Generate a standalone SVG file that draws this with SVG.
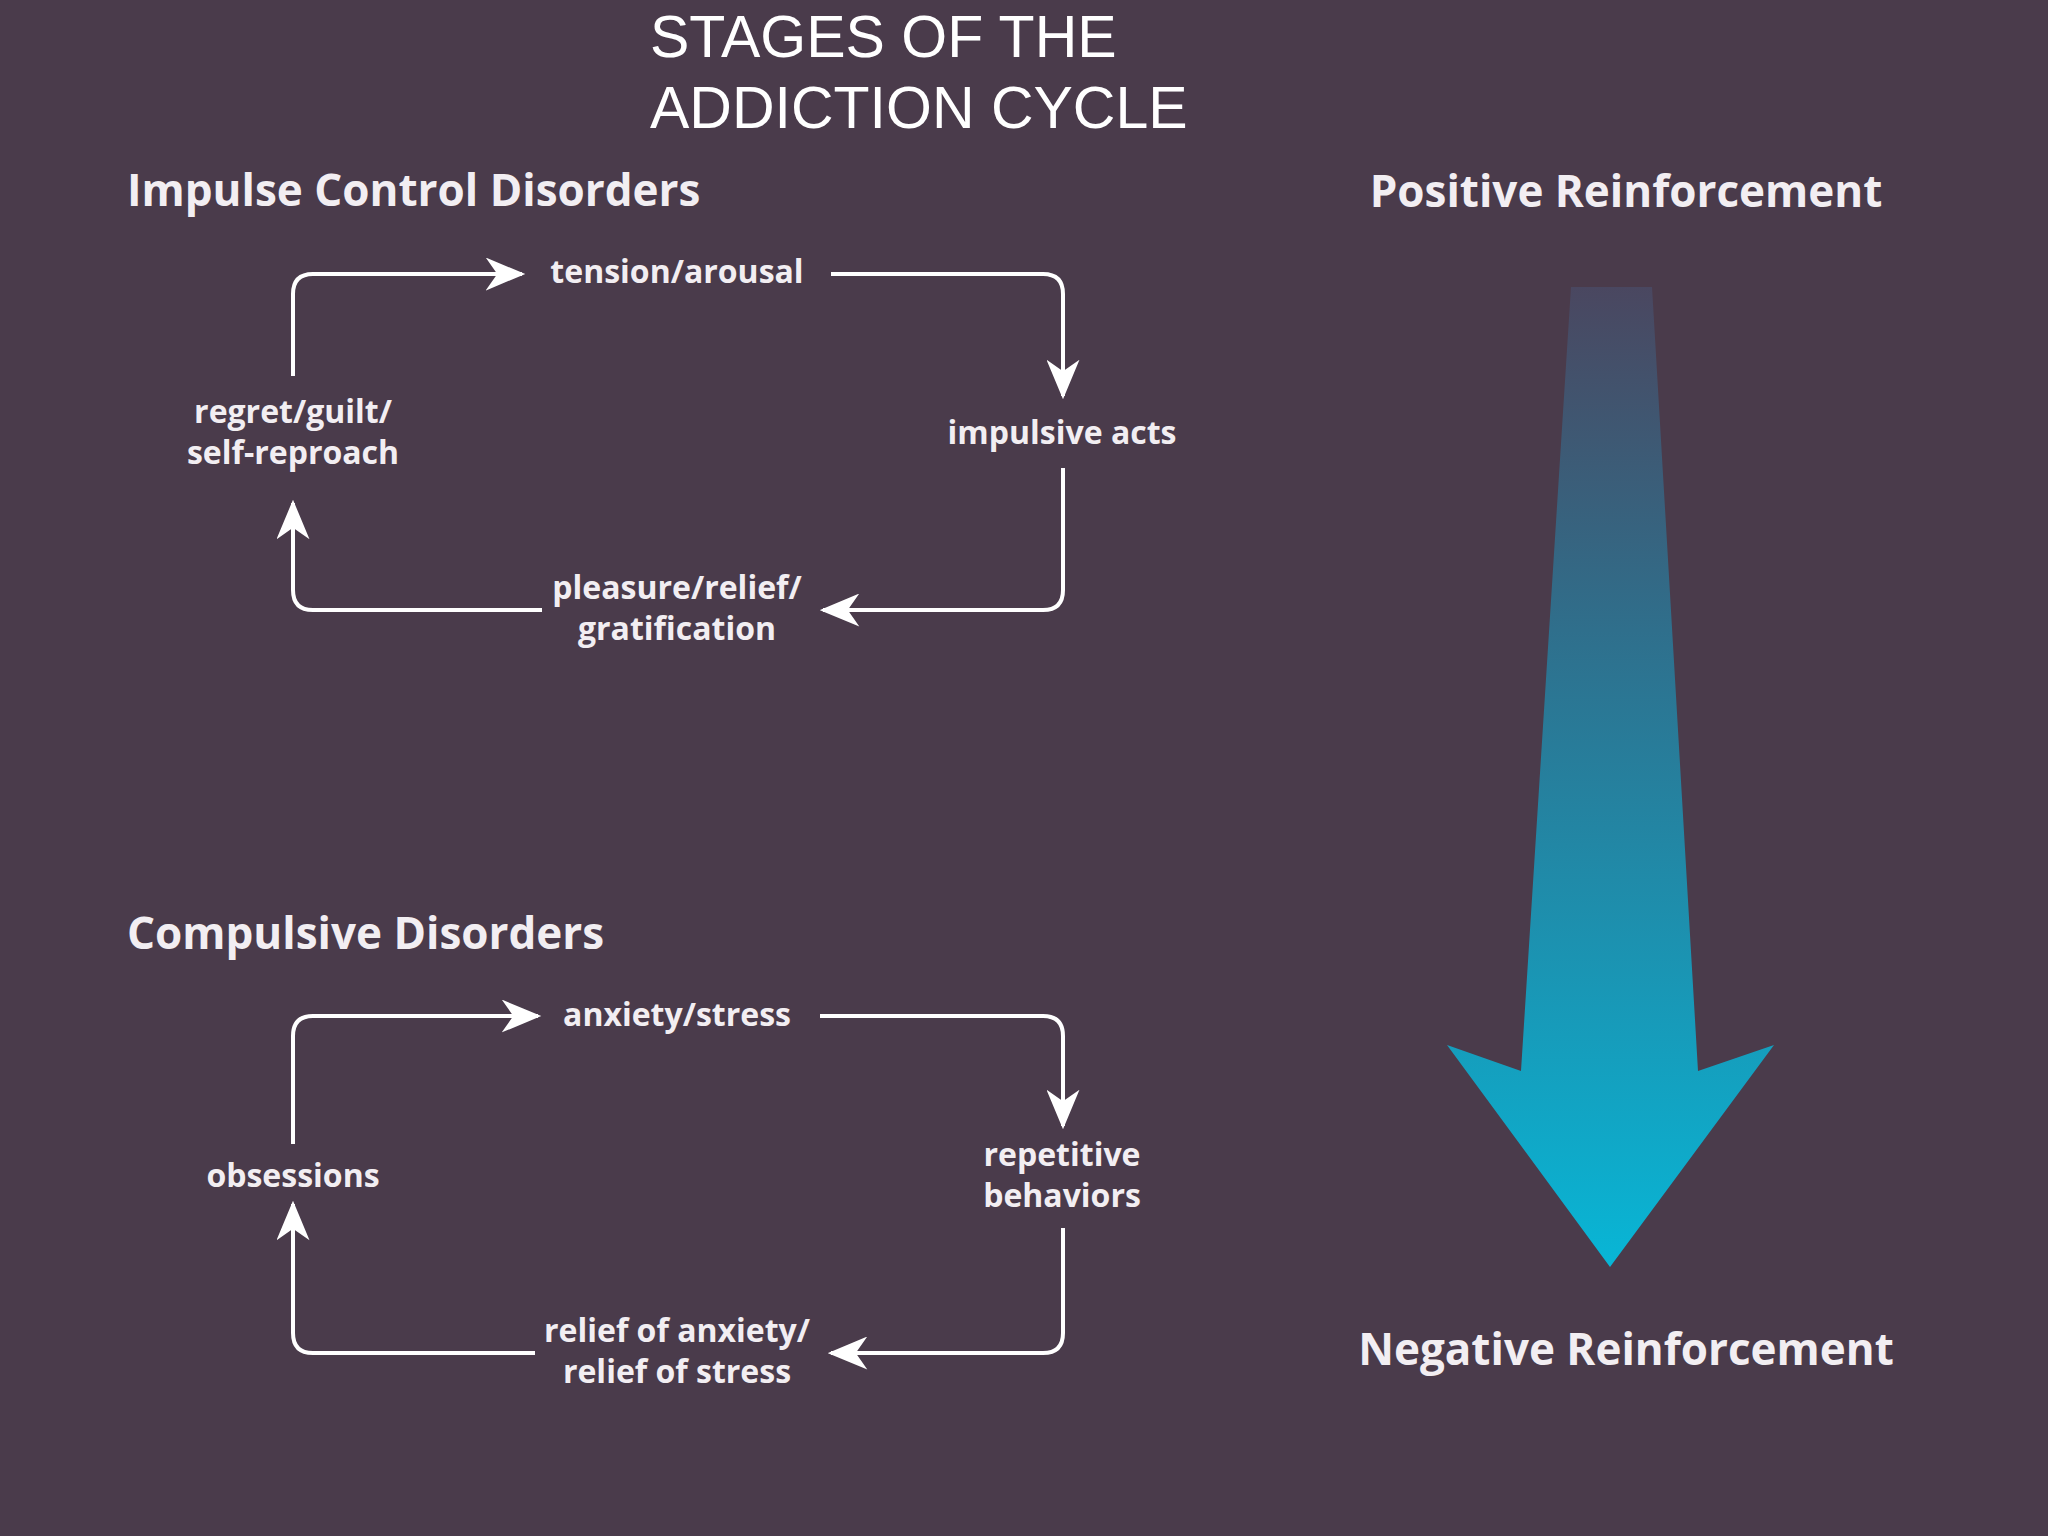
<svg xmlns="http://www.w3.org/2000/svg" width="2048" height="1536" viewBox="0 0 2048 1536">
<defs>
<marker id="ah" viewBox="0 0 12 10" refX="11" refY="5" markerWidth="40" markerHeight="33" markerUnits="userSpaceOnUse" orient="auto">
<path d="M0,0 L12,5 L0,10 L3.5,5 z" fill="#fff"/>
</marker>
<linearGradient id="g" x1="0" y1="287" x2="0" y2="1267" gradientUnits="userSpaceOnUse">
<stop offset="0" stop-color="#4a4760"/>
<stop offset="0.35" stop-color="#2f6f8c"/>
<stop offset="1" stop-color="#08b6d6"/>
</linearGradient>
<style>
.t{font-family:"Liberation Sans",Arial,sans-serif;fill:#fff}
.h{font-family:"Open Sans","Liberation Sans",sans-serif;font-weight:bold;fill:#f2eef2;font-size:44px}
.n{font-family:"Open Sans","Liberation Sans",sans-serif;font-weight:bold;fill:#f2eef2;font-size:32px;text-anchor:middle}
.c{fill:none;stroke:#fff;stroke-width:4}
</style>
</defs>
<rect width="2048" height="1536" fill="#4a3b4b"/>
<g id="title"><text class="t" x="650" y="57" font-size="59">STAGES OF THE</text><text class="t" x="650" y="128" font-size="59">ADDICTION CYCLE</text></g>
<g id="h1"><text class="h" x="127" y="206">Impulse Control Disorders</text></g>
<g id="h2"><text class="h" x="127" y="949">Compulsive Disorders</text></g>
<g id="pos"><text class="h" x="1626" y="207" text-anchor="middle">Positive Reinforcement</text></g>
<g id="neg"><text class="h" x="1626" y="1365" text-anchor="middle">Negative Reinforcement</text></g>
<g id="bigarrow"><path d="M1571,287 L1652,287 L1698,1071 L1774,1045 L1610,1267 L1447,1045 L1521,1071 Z" fill="url(#g)"/></g>
<g id="n1"><text class="n" x="677" y="283">tension/arousal</text></g>
<g id="n2"><text class="n" x="1062" y="444">impulsive acts</text></g>
<g id="n3"><text class="n" x="677" y="599">pleasure/relief/</text><text class="n" x="677" y="640">gratification</text></g>
<g id="n4"><text class="n" x="293" y="423">regret/guilt/</text><text class="n" x="293" y="464">self-reproach</text></g>
<g id="n5"><text class="n" x="677" y="1026">anxiety/stress</text></g>
<g id="n6"><text class="n" x="1062" y="1166">repetitive</text><text class="n" x="1062" y="1207">behaviors</text></g>
<g id="n7"><text class="n" x="677" y="1342">relief of anxiety/</text><text class="n" x="677" y="1383">relief of stress</text></g>
<g id="n8"><text class="n" x="293" y="1187">obsessions</text></g>
<g id="connectors">
<path class="c" d="M293,376 V294 Q293,274 313,274 H522" marker-end="url(#ah)"/>
<path class="c" d="M831,274 H1043 Q1063,274 1063,294 V396" marker-end="url(#ah)"/>
<path class="c" d="M1063,468 V590 Q1063,610 1043,610 H823" marker-end="url(#ah)"/>
<path class="c" d="M542,610 H313 Q293,610 293,590 V503" marker-end="url(#ah)"/>
<path class="c" d="M293,1144 V1036 Q293,1016 313,1016 H538" marker-end="url(#ah)"/>
<path class="c" d="M820,1016 H1043 Q1063,1016 1063,1036 V1126" marker-end="url(#ah)"/>
<path class="c" d="M1063,1228 V1333 Q1063,1353 1043,1353 H831" marker-end="url(#ah)"/>
<path class="c" d="M535,1353 H313 Q293,1353 293,1333 V1204" marker-end="url(#ah)"/>
</g>
</svg>
